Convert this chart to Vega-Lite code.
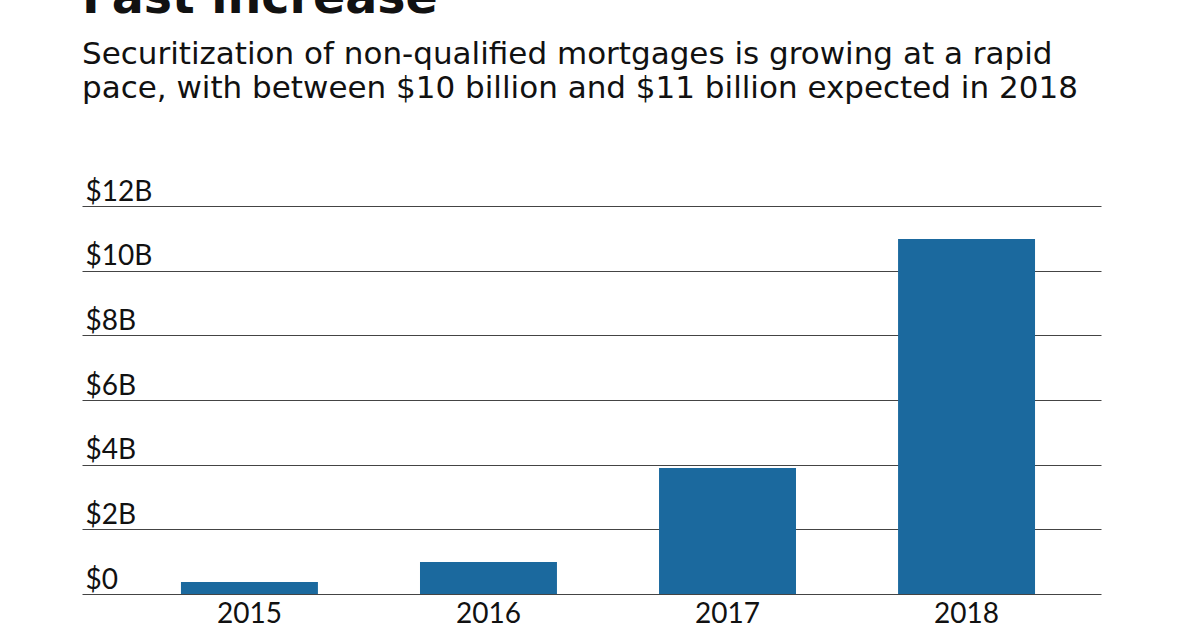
{
  "$schema": "https://vega.github.io/schema/vega-lite/v6.json",
  "width": 1019,
  "height": 388,
  "autosize": {"type": "none"},
  "padding": {"left": 82, "top": 206, "right": 99, "bottom": 36},
  "background": "white",
  "title": {
    "text": "Fast increase",
    "subtitle": ["Securitization of non-qualified mortgages is growing at a rapid", "pace, with between $10 billion and $11 billion expected in 2018"],
    "anchor": "start",
    "font": "DejaVu Sans",
    "fontSize": 47.5,
    "fontWeight": "bold",
    "color": "#111111",
    "subtitleFont": "DejaVu Sans",
    "subtitleFontSize": 31,
    "subtitleLineHeight": 34,
    "subtitleColor": "#111111",
    "subtitlePadding": 18,
    "offset": 74
  },
  "config": {
    "view": {"stroke": null},
    "font": "Lato"
  },
  "data": {
    "values": [
      {"year": "2015", "value": 0.37},
      {"year": "2016", "value": 0.99},
      {"year": "2017", "value": 3.9},
      {"year": "2018", "value": 10.98}
    ]
  },
  "mark": {"type": "bar", "color": "#1b699e"},
  "encoding": {
    "x": {
      "field": "year",
      "type": "ordinal",
      "scale": {"paddingInner": 0.427, "paddingOuter": 0.345, "align": 0.6},
      "axis": {
        "title": null,
        "domain": false,
        "ticks": false,
        "labelAngle": 0,
        "labelFont": "Lato",
        "labelFontSize": 28,
        "labelColor": "#111111",
        "labelBaseline": "alphabetic",
        "labelPadding": 28
      }
    },
    "y": {
      "field": "value",
      "type": "quantitative",
      "scale": {"domain": [0, 12], "nice": false},
      "axis": {
        "title": null,
        "values": [0, 2, 4, 6, 8, 10, 12],
        "labelExpr": "datum.value == 0 ? '$0' : '$' + datum.value + 'B'",
        "domain": false,
        "ticks": false,
        "grid": true,
        "gridColor": "#444444",
        "gridWidth": 1,
        "gridOpacity": 1,
        "labelAlign": "left",
        "labelBaseline": "alphabetic",
        "labelPadding": -3,
        "labelOffset": -6,
        "labelFont": "Lato",
        "labelFontSize": 28,
        "labelColor": "#111111",
        "zindex": 0
      }
    }
  }
}
